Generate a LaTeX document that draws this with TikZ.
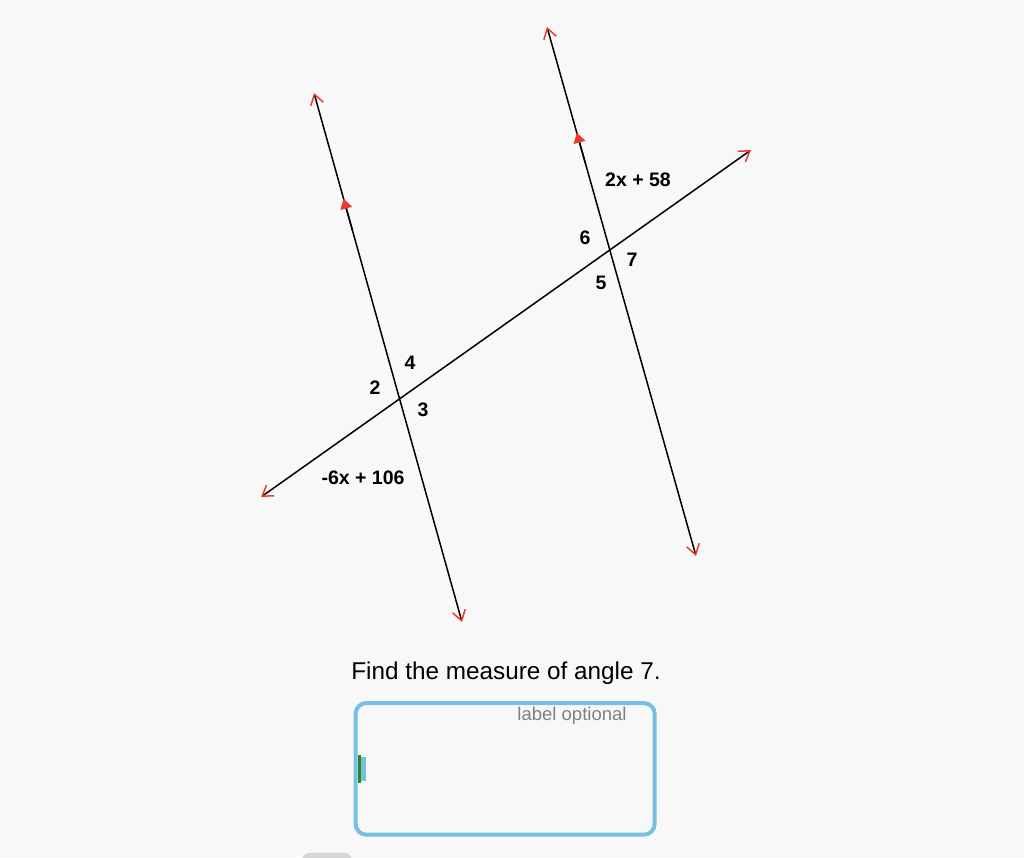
\documentclass[tikz,border=0pt]{standalone}
\usepackage{fontspec}
\setmainfont{Liberation Sans}
\usetikzlibrary{arrows.meta,calc}
\definecolor{bg}{RGB}{248,248,248}
\definecolor{arrred}{RGB}{236,58,44}
\definecolor{boxblue}{RGB}{118,192,224}
\definecolor{curgreen}{RGB}{46,132,40}
\definecolor{labgray}{RGB}{128,128,128}
\definecolor{pillgray}{RGB}{214,214,214}
\tikzset{
  geoline/.style={black, line width=1.5pt, {Straight Barb[color=arrred,line width=1.5pt,length=10pt,width=13pt]}-{Straight Barb[color=arrred,line width=1.5pt,length=10pt,width=13pt]}},
  parmark/.style={black, line width=1.5pt, -{Triangle[color=arrred,length=10pt,width=12pt]}},
  lbl/.style={font=\fontsize{19.5}{21}\selectfont\bfseries, inner sep=0pt},
  qtext/.style={font=\fontsize{24.3}{27}\selectfont, inner sep=0pt},
  hint/.style={font=\fontsize{18.5}{21}\selectfont, text=labgray, inner sep=0pt},
}
\begin{document}
\begin{tikzpicture}[x=1pt,y=-1pt]
\useasboundingbox (0,0) rectangle (1024,857);
\clip (0,0) rectangle (1024,857);
\fill[bg] (0,0) rectangle (1024,857);
% endpoints
\coordinate (L1a) at (314,93);
\coordinate (L1b) at (462,622);
\coordinate (L2a) at (547,27);
\coordinate (L2b) at (696,556);
\coordinate (Ta) at (261,497);
\coordinate (Tb) at (751,150);
% lines
\draw[geoline] (L1a) -- (L1b);
\draw[geoline] (L2a) -- (L2b);
\draw[geoline] (Ta) -- (Tb);
% parallel markers
\coordinate (M1) at ($(L1a)!0.2!(L1b)$);
\coordinate (M1s) at ($(L1a)!0.26!(L1b)$);
\coordinate (M2) at ($(L2a)!0.2!(L2b)$);
\coordinate (M2s) at ($(L2a)!0.26!(L2b)$);
\draw[parmark] (M1s) -- (M1);
\draw[parmark] (M2s) -- (M2);
% labels
\node[lbl] (e1) at (638,180) {2x + 58};
\node[lbl] (a6) at (585,238) {6};
\node[lbl] (a7) at (632,260) {7};
\node[lbl] (a5) at (601,283) {5};
\node[lbl] (a4) at (410,363) {4};
\node[lbl] (a2) at (375,388) {2};
\node[lbl] (a3) at (423,410) {3};
\node[lbl] (e2) at (363,478) {-6x + 106};
% question
\node[qtext] (q) at (506,673.5) {Find the measure of angle 7.};
% answer box
\draw[boxblue, line width=4pt, rounded corners=11pt] (355.5,703) rectangle (654.7,834.7);
\node[hint] (h) at (572,715.5) {label optional};
\fill[boxblue] (361,756.7) rectangle (366,780.7);
\fill[curgreen] (357.7,755) rectangle (361,782.7);
% bottom pill
\fill[pillgray, rounded corners=8pt] (302,852.7) rectangle (352,875);
\end{tikzpicture}
\end{document}
